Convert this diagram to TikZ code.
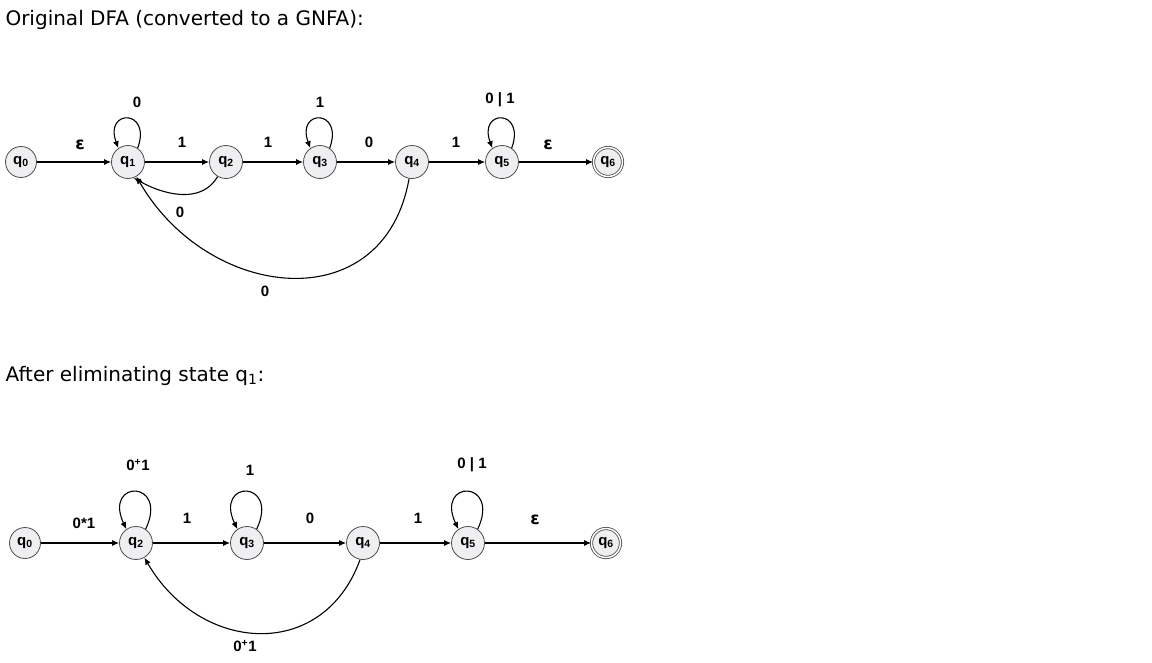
\documentclass[tikz,border=0pt]{standalone}
\usepackage{fontspec}
\setmainfont{DejaVu Sans}
\newfontfamily\arial{Liberation Sans}
\usetikzlibrary{arrows.meta}
\newcommand{\qq}[1]{q\textsubscript{#1}}
\begin{document}
\begin{tikzpicture}[x=1pt,y=-1pt,
  st/.style={circle,draw=black!70,fill=blue!6!gray!12,line width=0.8pt,minimum size=33pt,inner sep=0pt,font=\arial\bfseries\fontsize{15}{15}\selectfont},
  st0/.style={st,minimum size=31pt},
  fin/.style={st,minimum size=29pt,double,double distance=1.5pt},
  tr/.style={-{Latex[length=7pt,width=6pt]},line width=1.1pt},
  lb/.style={font=\arial\bfseries\fontsize{15}{15}\selectfont},
  eps/.style={font=\bfseries\fontsize{17}{17}\selectfont}]
\useasboundingbox (0,0) rectangle (1152,662);
\node[anchor=west,font=\fontsize{20}{20}\selectfont] (t1) at (2,20) {Original DFA (converted to a GNFA):};
\node[anchor=west,font=\fontsize{20}{20}\selectfont] (t2) at (2,376) {After eliminating state q\textsubscript{1}:};
% top
\node[st0] (a0) at (21,162) {\qq{0}};
\node[st] (a1) at (128,162) {\qq{1}};
\node[st] (a2) at (226,162) {\qq{2}};
\node[st] (a3) at (320,162) {\qq{3}};
\node[st] (a4) at (412,162) {\qq{4}};
\node[st] (a5) at (502,162) {\qq{5}};
\node[fin] (a6) at (608,162) {\qq{6}};
\draw[tr] (a0) -- (a1);
\draw[tr] (a1) -- (a2);
\draw[tr] (a2) -- (a3);
\draw[tr] (a3) -- (a4);
\draw[tr] (a4) -- (a5);
\draw[tr] (a5) -- (a6);
\draw[tr] (a1.55) .. controls +(-70:42) and +(-110:42) .. (a1.125);
\draw[tr] (a3.55) .. controls +(-70:42) and +(-110:42) .. (a3.125);
\draw[tr] (a5.55) .. controls +(-70:42) and +(-110:42) .. (a5.125);
\draw[tr] (a2.-120) to[out=-120,in=-30,looseness=1] (a1.-70);
\draw[tr] (a4.-100) to[out=-100,in=-60,looseness=1.35] (a1.-60);
\node[eps] (e1) at (80,145) {ε};
\node[lb] (e2) at (182,142) {1};
\node[lb] (e3) at (268,142) {1};
\node[lb] (e4) at (369,142) {0};
\node[lb] (e5) at (456,142) {1};
\node[eps] (e6) at (548,145) {ε};
\node[lb] (e7) at (137,102) {0};
\node[lb] (e8) at (320,102) {1};
\node[lb] (e9) at (500,100) {0 | 1};
\node[lb] (e10) at (180,212) {0};
\node[lb] (e11) at (265,291) {0};
% bottom
\node[st0] (b0) at (25,543) {\qq{0}};
\node[st] (b2) at (136,543) {\qq{2}};
\node[st] (b3) at (247,543) {\qq{3}};
\node[st] (b4) at (363,543) {\qq{4}};
\node[st] (b5) at (468,543) {\qq{5}};
\node[fin] (b6) at (606,543) {\qq{6}};
\draw[tr] (b0) -- (b2);
\draw[tr] (b2) -- (b3);
\draw[tr] (b3) -- (b4);
\draw[tr] (b4) -- (b5);
\draw[tr] (b5) -- (b6);
\draw[tr] (b2.55) .. controls +(-65:55) and +(-115:55) .. (b2.125);
\draw[tr] (b3.55) .. controls +(-65:55) and +(-115:55) .. (b3.125);
\draw[tr] (b5.55) .. controls +(-65:55) and +(-115:55) .. (b5.125);
\draw[tr] (b4.-100) to[out=-110,in=-60,looseness=1.3] (b2.-60);
\node[lb] (f1) at (84,523) {0*1};
\node[lb] (f2) at (187,518) {1};
\node[lb] (f3) at (310,518) {0};
\node[lb] (f4) at (418,518) {1};
\node[eps] (f5) at (535,520) {ε};
\node[lb] (f6) at (138,465) {0\textsuperscript{+}1};
\node[lb] (f7) at (250,470) {1};
\node[lb] (f8) at (472,465) {0 | 1};
\node[lb] (f9) at (245,646) {0\textsuperscript{+}1};
\end{tikzpicture}
\end{document}
